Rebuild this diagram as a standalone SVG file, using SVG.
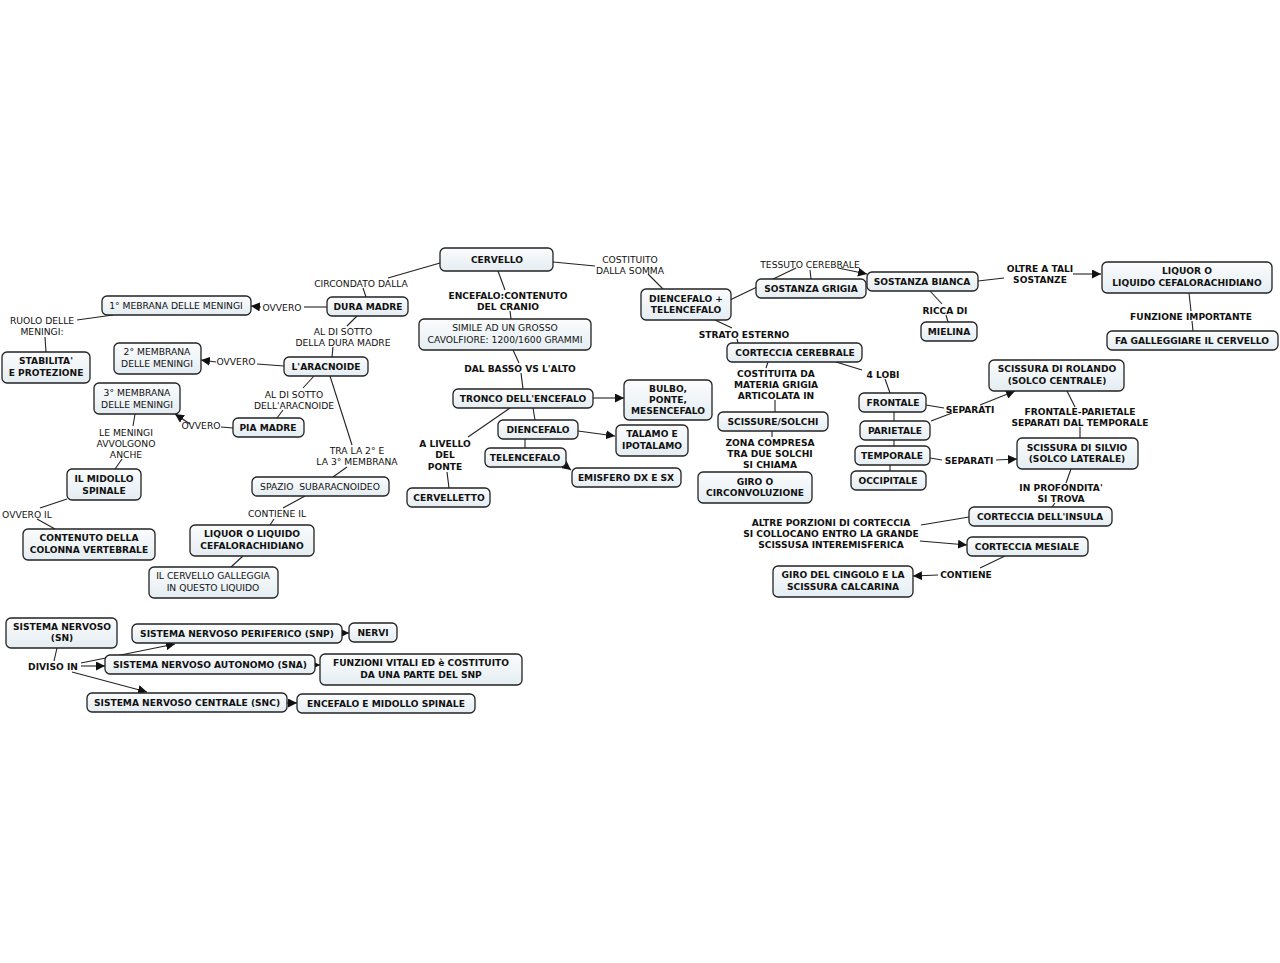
<svg xmlns="http://www.w3.org/2000/svg" width="1280" height="963" viewBox="0 0 1280 963">
<defs>
<linearGradient id="gf" x1="0" y1="0" x2="0" y2="1">
<stop offset="0" stop-color="#fbfcfd"/>
<stop offset="1" stop-color="#e4edf2"/>
</linearGradient>
<marker id="ar" viewBox="0 0 10 10" refX="10" refY="5" markerWidth="9" markerHeight="9" markerUnits="userSpaceOnUse" orient="auto">
<path d="M0,0 L10,5 L0,10 z" fill="#111"/>
</marker>
<style>
.n rect{fill:url(#gf);stroke:#222;stroke-width:1.3}
text{font-family:"DejaVu Sans",Verdana,sans-serif;font-size:9.2px;fill:#111;text-anchor:middle}
.b{font-weight:bold;font-size:9.1px}
.c line,.c polyline{stroke:#222;stroke-width:1.1;fill:none}
.a{marker-end:url(#ar)}
</style>
</defs>
<rect width="1280" height="963" fill="#fff"/>

<g class="c">
<line x1="440" y1="263" x2="388" y2="278"/>
<line x1="363" y1="288" x2="366" y2="297"/>
<line x1="327" y1="307" x2="304" y2="307"/>
<line class="a" x1="261" y1="307" x2="251" y2="306"/>
<line x1="113" y1="315" x2="77" y2="320"/>
<line x1="45" y1="337" x2="46" y2="352"/>
<line x1="357" y1="316" x2="347" y2="326"/>
<line x1="333" y1="347" x2="332" y2="357"/>
<line x1="284" y1="366" x2="257" y2="364"/>
<line class="a" x1="216" y1="362" x2="201" y2="360"/>
<line x1="314" y1="376" x2="303" y2="388"/>
<line x1="283" y1="410" x2="277" y2="418"/>
<line x1="233" y1="428" x2="221" y2="427"/>
<line class="a" x1="190" y1="424" x2="175" y2="414"/>
<line x1="135" y1="414" x2="133" y2="426"/>
<line x1="122" y1="459" x2="115" y2="469"/>
<line x1="67" y1="499" x2="40" y2="508"/>
<line x1="37" y1="519" x2="55" y2="529"/>
<line x1="330" y1="376" x2="352" y2="445"/>
<line x1="347" y1="467" x2="333" y2="477"/>
<line x1="305" y1="496" x2="283" y2="508"/>
<line x1="274" y1="519" x2="270" y2="525"/>
<line x1="243" y1="556" x2="231" y2="567"/>
<line x1="498" y1="271" x2="505" y2="290"/>
<line x1="510" y1="311" x2="511" y2="319"/>
<line x1="513" y1="350" x2="519" y2="363"/>
<line x1="521" y1="373" x2="523" y2="389"/>
<line class="a" x1="593" y1="398" x2="624" y2="398"/>
<line x1="510" y1="408" x2="468" y2="437"/>
<line x1="447" y1="472" x2="449" y2="488"/>
<line x1="533" y1="408" x2="535" y2="420"/>
<line class="a" x1="578" y1="431" x2="615" y2="436"/>
<line x1="525" y1="439" x2="525" y2="448"/>
<line class="a" x1="563" y1="464" x2="571" y2="470"/>
<line x1="553" y1="262" x2="595" y2="266"/>
<line x1="648" y1="274" x2="663" y2="289"/>
<line x1="730" y1="300" x2="796" y2="268"/>
<line x1="810" y1="270" x2="811" y2="279"/>
<line class="a" x1="838" y1="268" x2="867" y2="274"/>
<line x1="978" y1="281" x2="1004" y2="278"/>
<line class="a" x1="1073" y1="274" x2="1101" y2="274"/>
<line x1="930" y1="291" x2="942" y2="304"/>
<line x1="946" y1="315" x2="948" y2="322"/>
<line x1="1189" y1="293" x2="1191" y2="311"/>
<line x1="1192" y1="321" x2="1193" y2="331"/>
<line x1="715" y1="320" x2="732" y2="328"/>
<line x1="737" y1="339" x2="738" y2="343"/>
<line x1="768" y1="362" x2="766" y2="368"/>
<line x1="775" y1="400" x2="775" y2="412"/>
<line x1="772" y1="431" x2="772" y2="437"/>
<line x1="836" y1="362" x2="862" y2="370"/>
<line x1="885" y1="379" x2="890" y2="393"/>
<line x1="894" y1="412" x2="894" y2="421"/>
<line x1="894" y1="440" x2="894" y2="446"/>
<line x1="890" y1="465" x2="890" y2="471"/>
<line x1="926" y1="405" x2="944" y2="408"/>
<line x1="931" y1="421" x2="952" y2="413"/>
<line class="a" x1="980" y1="405" x2="1015" y2="391"/>
<line x1="930" y1="458" x2="942" y2="460"/>
<line class="a" x1="996" y1="460" x2="1017" y2="459"/>
<line x1="1067" y1="391" x2="1075" y2="407"/>
<line x1="1080" y1="427" x2="1080" y2="438"/>
<line x1="1071" y1="469" x2="1066" y2="483"/>
<line x1="1055" y1="503" x2="1052" y2="507"/>
<line x1="969" y1="517" x2="921" y2="525"/>
<line class="a" x1="920" y1="541" x2="967" y2="545"/>
<line x1="1005" y1="556" x2="980" y2="568"/>
<line class="a" x1="938" y1="575" x2="913" y2="576"/>
<line x1="57" y1="648" x2="54" y2="661"/>
<line class="a" x1="81" y1="663" x2="175" y2="644"/>
<line class="a" x1="81" y1="666" x2="105" y2="666"/>
<line class="a" x1="72" y1="672" x2="147" y2="692"/>
<line class="a" x1="341" y1="633" x2="349" y2="633"/>
<line class="a" x1="315" y1="665" x2="320" y2="665"/>
<line class="a" x1="287" y1="703" x2="297" y2="703"/>
</g>

<g id="labels">
<text x="361" y="287">CIRCONDATO DALLA</text>
<text x="282" y="311">OVVERO</text>
<text x="42" y="324">RUOLO DELLE</text>
<text x="42" y="335">MENINGI:</text>
<text x="343" y="335">AL DI SOTTO</text>
<text x="343" y="346">DELLA DURA MADRE</text>
<text x="236" y="365">OVVERO</text>
<text x="294" y="398">AL DI SOTTO</text>
<text x="294" y="409">DELL'ARACNOIDE</text>
<text x="201" y="429">OVVERO</text>
<text x="126" y="436">LE MENINGI</text>
<text x="126" y="447">AVVOLGONO</text>
<text x="126" y="458">ANCHE</text>
<text x="27" y="518">OVVERO IL</text>
<text x="357" y="454">TRA LA 2° E</text>
<text x="357" y="465">LA 3° MEMBRANA</text>
<text x="277" y="517">CONTIENE IL</text>
<text x="630" y="263">COSTITUITO</text>
<text x="630" y="274">DALLA SOMMA</text>
<text x="810" y="268">TESSUTO CEREBRALE</text>
<g class="b">
<text class="b" x="508" y="299">ENCEFALO:CONTENUTO</text>
<text class="b" x="508" y="310">DEL CRANIO</text>
<text class="b" x="520" y="372">DAL BASSO VS L'ALTO</text>
<text class="b" x="445" y="447">A LIVELLO</text>
<text class="b" x="445" y="458">DEL</text>
<text class="b" x="445" y="470">PONTE</text>
<text class="b" x="744" y="338">STRATO ESTERNO</text>
<text class="b" x="776" y="377">COSTITUITA DA</text>
<text class="b" x="776" y="388">MATERIA GRIGIA</text>
<text class="b" x="776" y="399">ARTICOLATA IN</text>
<text class="b" x="770" y="446">ZONA COMPRESA</text>
<text class="b" x="770" y="457">TRA DUE SOLCHI</text>
<text class="b" x="770" y="468">SI CHIAMA</text>
<text class="b" x="883" y="378">4 LOBI</text>
<text class="b" x="970" y="413">SEPARATI</text>
<text class="b" x="969" y="464">SEPARATI</text>
<text class="b" x="1080" y="415">FRONTALE-PARIETALE</text>
<text class="b" x="1080" y="426">SEPARATI DAL TEMPORALE</text>
<text class="b" x="1061" y="491">IN PROFONDITA'</text>
<text class="b" x="1061" y="502">SI TROVA</text>
<text class="b" x="831" y="526">ALTRE PORZIONI DI CORTECCIA</text>
<text class="b" x="831" y="537">SI COLLOCANO ENTRO LA GRANDE</text>
<text class="b" x="831" y="548">SCISSUSA INTEREMISFERICA</text>
<text class="b" x="966" y="578">CONTIENE</text>
<text class="b" x="1040" y="272">OLTRE A TALI</text>
<text class="b" x="1040" y="283">SOSTANZE</text>
<text class="b" x="945" y="314">RICCA DI</text>
<text class="b" x="1191" y="320">FUNZIONE IMPORTANTE</text>
<text class="b" x="53" y="670">DIVISO IN</text>
</g>
</g>

<g id="cervello" class="n"><rect x="440" y="248" width="113" height="23" rx="5"/><text class="b" x="497" y="263">CERVELLO</text></g>
<g id="membrana1" class="n"><rect x="102" y="296" width="149" height="19" rx="5"/><text x="176" y="309">1° MEBRANA DELLE MENINGI</text></g>
<g id="dura-madre" class="n"><rect x="327" y="297" width="81" height="19" rx="5"/><text class="b" x="368" y="310">DURA MADRE</text></g>
<g id="stabilita" class="n"><rect x="2" y="352" width="88" height="31" rx="5"/><text class="b" x="46" y="364">STABILITA'</text><text class="b" x="46" y="376">E PROTEZIONE</text></g>
<g id="membrana2" class="n"><rect x="114" y="343" width="87" height="31" rx="5"/><text x="157" y="355">2° MEMBRANA</text><text x="157" y="367">DELLE MENINGI</text></g>
<g id="aracnoide" class="n"><rect x="284" y="357" width="84" height="19" rx="5"/><text class="b" x="326" y="370">L'ARACNOIDE</text></g>
<g id="membrana3" class="n"><rect x="94" y="383" width="86" height="31" rx="5"/><text x="137" y="396">3° MEMBRANA</text><text x="137" y="408">DELLE MENINGI</text></g>
<g id="pia-madre" class="n"><rect x="233" y="418" width="71" height="19" rx="5"/><text class="b" x="268" y="431">PIA MADRE</text></g>
<g id="midollo" class="n"><rect x="67" y="469" width="74" height="31" rx="5"/><text class="b" x="104" y="482">IL MIDOLLO</text><text class="b" x="104" y="494">SPINALE</text></g>
<g id="contenuto" class="n"><rect x="23" y="529" width="132" height="31" rx="5"/><text class="b" x="89" y="541">CONTENUTO DELLA</text><text class="b" x="89" y="553">COLONNA VERTEBRALE</text></g>
<g id="spazio" class="n"><rect x="252" y="477" width="137" height="19" rx="5"/><text x="320" y="490" style="white-space:pre">SPAZIO  SUBARACNOIDEO</text></g>
<g id="liquor1" class="n"><rect x="190" y="525" width="124" height="31" rx="5"/><text class="b" x="252" y="537">LIQUOR O LIQUIDO</text><text class="b" x="252" y="549">CEFALORACHIDIANO</text></g>
<g id="galleggia" class="n"><rect x="149" y="567" width="129" height="31" rx="5"/><text x="213" y="579">IL CERVELLO GALLEGGIA</text><text x="213" y="591">IN QUESTO LIQUIDO</text></g>
<g id="simile" class="n"><rect x="419" y="319" width="172" height="31" rx="5"/><text x="505" y="331">SIMILE AD UN GROSSO</text><text x="505" y="343">CAVOLFIORE: 1200/1600 GRAMMI</text></g>
<g id="tronco" class="n"><rect x="453" y="389" width="140" height="19" rx="5"/><text class="b" x="523" y="402">TRONCO DELL'ENCEFALO</text></g>
<g id="bulbo" class="n"><rect x="624" y="380" width="88" height="40" rx="5"/><text class="b" x="668" y="392">BULBO,</text><text class="b" x="668" y="403">PONTE,</text><text class="b" x="668" y="414">MESENCEFALO</text></g>
<g id="diencefalo" class="n"><rect x="498" y="420" width="80" height="19" rx="5"/><text class="b" x="538" y="433">DIENCEFALO</text></g>
<g id="talamo" class="n"><rect x="616" y="425" width="72" height="31" rx="5"/><text class="b" x="652" y="437">TALAMO E</text><text class="b" x="652" y="449">IPOTALAMO</text></g>
<g id="telencefalo" class="n"><rect x="485" y="448" width="81" height="19" rx="5"/><text class="b" x="525" y="461">TELENCEFALO</text></g>
<g id="emisfero" class="n"><rect x="572" y="468" width="109" height="19" rx="5"/><text class="b" x="626" y="481">EMISFERO DX E SX</text></g>
<g id="cervelletto" class="n"><rect x="407" y="488" width="83" height="19" rx="5"/><text class="b" x="449" y="501">CERVELLETTO</text></g>
<g id="diencefalo-telencefalo" class="n"><rect x="641" y="289" width="90" height="31" rx="5"/><text class="b" x="686" y="302">DIENCEFALO +</text><text class="b" x="686" y="313">TELENCEFALO</text></g>
<g id="sostanza-grigia" class="n"><rect x="756" y="279" width="110" height="19" rx="5"/><text class="b" x="811" y="292">SOSTANZA GRIGIA</text></g>
<g id="sostanza-bianca" class="n"><rect x="867" y="272" width="111" height="19" rx="5"/><text class="b" x="922" y="285">SOSTANZA BIANCA</text></g>
<g id="liquor2" class="n"><rect x="1102" y="262" width="170" height="31" rx="5"/><text class="b" x="1187" y="274">LIQUOR O</text><text class="b" x="1187" y="286">LIQUIDO CEFALORACHIDIANO</text></g>
<g id="mielina" class="n"><rect x="921" y="322" width="56" height="19" rx="5"/><text class="b" x="949" y="335">MIELINA</text></g>
<g id="fa-galleggiare" class="n"><rect x="1107" y="331" width="171" height="19" rx="5"/><text class="b" x="1192" y="344">FA GALLEGGIARE IL CERVELLO</text></g>
<g id="corteccia" class="n"><rect x="727" y="343" width="135" height="19" rx="5"/><text class="b" x="795" y="356">CORTECCIA CEREBRALE</text></g>
<g id="scissure" class="n"><rect x="718" y="412" width="110" height="19" rx="5"/><text class="b" x="773" y="425">SCISSURE/SOLCHI</text></g>
<g id="giro" class="n"><rect x="698" y="472" width="114" height="31" rx="5"/><text class="b" x="755" y="485">GIRO O</text><text class="b" x="755" y="496">CIRCONVOLUZIONE</text></g>
<g id="frontale" class="n"><rect x="859" y="393" width="67" height="19" rx="5"/><text class="b" x="893" y="406">FRONTALE</text></g>
<g id="parietale" class="n"><rect x="860" y="421" width="70" height="19" rx="5"/><text class="b" x="895" y="434">PARIETALE</text></g>
<g id="temporale" class="n"><rect x="855" y="446" width="75" height="19" rx="5"/><text class="b" x="892" y="459">TEMPORALE</text></g>
<g id="occipitale" class="n"><rect x="851" y="471" width="75" height="19" rx="5"/><text class="b" x="888" y="484">OCCIPITALE</text></g>
<g id="rolando" class="n"><rect x="989" y="360" width="135" height="31" rx="5"/><text class="b" x="1057" y="372">SCISSURA DI ROLANDO</text><text class="b" x="1057" y="384">(SOLCO CENTRALE)</text></g>
<g id="silvio" class="n"><rect x="1017" y="438" width="121" height="31" rx="5"/><text class="b" x="1077" y="451">SCISSURA DI SILVIO</text><text class="b" x="1077" y="462">(SOLCO LATERALE)</text></g>
<g id="insula" class="n"><rect x="969" y="507" width="143" height="19" rx="5"/><text class="b" x="1040" y="520">CORTECCIA DELL'INSULA</text></g>
<g id="mesiale" class="n"><rect x="967" y="537" width="121" height="19" rx="5"/><text class="b" x="1027" y="550">CORTECCIA MESIALE</text></g>
<g id="cingolo" class="n"><rect x="773" y="566" width="140" height="31" rx="5"/><text class="b" x="843" y="578">GIRO DEL CINGOLO E LA</text><text class="b" x="843" y="590">SCISSURA CALCARINA</text></g>
<g id="sn" class="n"><rect x="6" y="618" width="111" height="30" rx="5"/><text class="b" x="62" y="630">SISTEMA NERVOSO</text><text class="b" x="62" y="641">(SN)</text></g>
<g id="snp" class="n"><rect x="132" y="624" width="210" height="19" rx="5"/><text class="b" x="237" y="637">SISTEMA NERVOSO PERIFERICO (SNP)</text></g>
<g id="nervi" class="n"><rect x="349" y="623" width="48" height="19" rx="5"/><text class="b" x="373" y="636">NERVI</text></g>
<g id="sna" class="n"><rect x="105" y="655" width="210" height="19" rx="5"/><text class="b" x="210" y="668">SISTEMA NERVOSO AUTONOMO (SNA)</text></g>
<g id="funzioni" class="n"><rect x="320" y="654" width="202" height="31" rx="5"/><text class="b" x="421" y="666">FUNZIONI VITALI ED è COSTITUITO</text><text class="b" x="421" y="678">DA UNA PARTE DEL SNP</text></g>
<g id="snc" class="n"><rect x="87" y="693" width="200" height="19" rx="5"/><text class="b" x="187" y="706">SISTEMA NERVOSO CENTRALE (SNC)</text></g>
<g id="encefalo-midollo" class="n"><rect x="297" y="694" width="178" height="19" rx="5"/><text class="b" x="386" y="707">ENCEFALO E MIDOLLO SPINALE</text></g>
</svg>
